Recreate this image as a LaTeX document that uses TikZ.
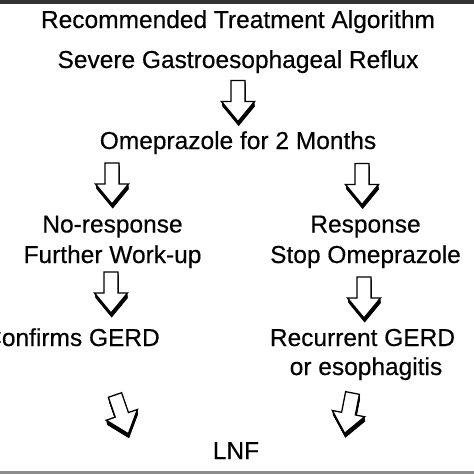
\documentclass[tikz,border=0pt]{standalone}
\usepackage{fontspec}
\setmainfont{Liberation Sans}
\newfontfamily\lblfont{Liberation Sans}[FakeBold=0.4]
\newcommand\blockarr[3]{%
  \foreach \k in {0.5,1.0,...,4.5}{%
    \begin{scope}[shift={(#1+0.15*\k,#2+\k)},rotate=#3]
      \fill[black] (-7,0) -- (7,0) -- (7,21) -- (16.5,21) -- (0,41) -- (-16.5,21) -- (-7,21) -- cycle;
    \end{scope}}%
  \begin{scope}[shift={(#1,#2)},rotate=#3]
    \filldraw[fill=white,draw=black,line width=1.3pt,line join=miter] (-7,0) -- (7,0) -- (7,21) -- (16.5,21) -- (0,41) -- (-16.5,21) -- (-7,21) -- cycle;
  \end{scope}}
\begin{document}
\begin{tikzpicture}[x=1pt,y=-1pt,
  lbl/.style={anchor=base, inner sep=0pt, font=\lblfont\fontsize{24.5}{28}\selectfont}]
\useasboundingbox (0,0) rectangle (474,474);
\fill[white] (0,0) rectangle (474,474);
\fill[black!80] (0,0) rectangle (474,3.5);
\fill[black!45] (0,471) rectangle (474,474);
\node[lbl] (title) at (238,28) {Recommended Treatment Algorithm};
\node[lbl] (severe) at (238,68) {Severe Gastroesophageal Reflux};
\node[lbl] (omep) at (238,149) {Omeprazole for 2 Months};
\node[lbl] (noresp) at (112.5,232.5) {No-response};
\node[lbl] (further) at (112.5,263) {Further Work-up};
\node[lbl] (resp) at (365.5,232.5) {Response};
\node[lbl] (stop) at (365.5,263) {Stop Omeprazole};
\node[lbl,anchor=base east] (confirms) at (160,346) {Confirms GERD};
\node[lbl] (recur) at (362.5,346) {Recurrent GERD};
\node[lbl] (esoph) at (366,375) {or esophagitis};
\node[lbl] (lnf) at (236,459) {LNF};
\blockarr{238}{80.5}{0}
\blockarr{112}{163}{0}
\blockarr{362}{163.5}{0}
\blockarr{111}{272}{0}
\blockarr{364}{277}{0}
\blockarr{115}{395}{19}
\blockarr{352.5}{393}{-11}
\end{tikzpicture}
\end{document}
